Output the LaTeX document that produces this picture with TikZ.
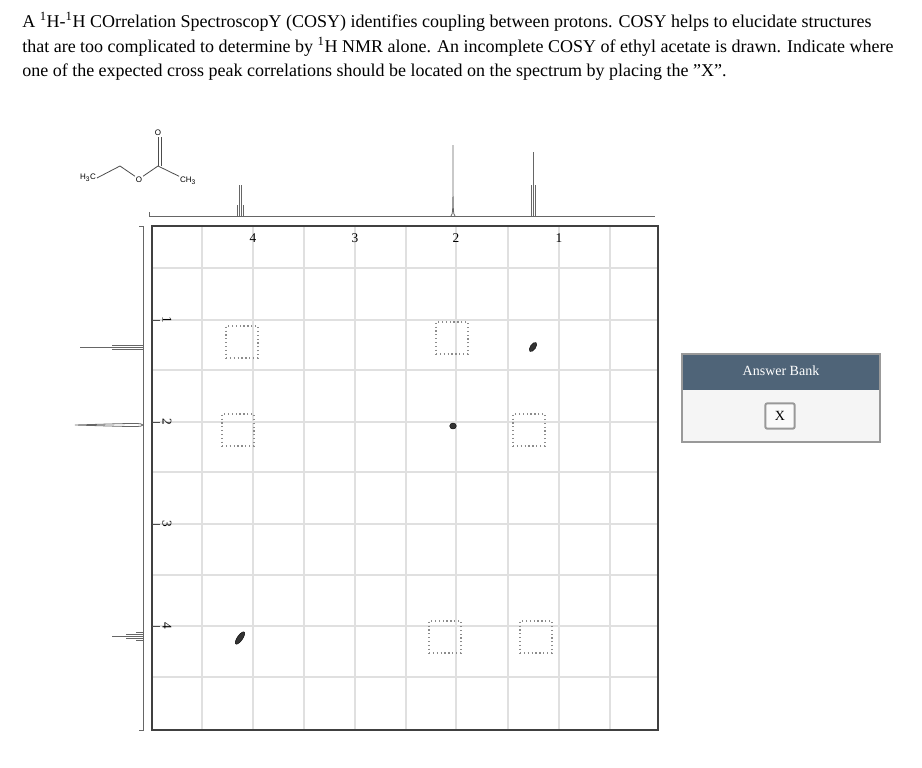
\documentclass[tikz,border=0pt]{standalone}
\usepackage{fontspec}
\setmainfont{Liberation Serif}
\newfontfamily\molfont{Liberation Sans}
\usetikzlibrary{shapes.geometric}
\begin{document}
\begin{tikzpicture}[x=0.75pt,y=-0.75pt,
  hdr/.style={anchor=west,inner sep=0,font=\fontsize{13.5pt}{15pt}\selectfont},
  grid/.style={draw=black!12,line width=0.8pt},
  spec/.style={draw=black!60,line width=0.6pt},
  dotbox/.style={draw=black!45,dotted,line width=0.9pt,minimum width=24pt,minimum height=24pt,inner sep=0},
  axlab/.style={font=\fontsize{10pt}{11pt}\selectfont,inner sep=0},
  mol/.style={font=\molfont\fontsize{6pt}{7pt}\selectfont,inner sep=0.5pt},
  pk/.style={fill=black!80,draw=black,line width=0.3pt,ellipse}]
\useasboundingbox (0,0) rectangle (922,768);
\node[hdr] (t1) at (22,22) {A \textsuperscript{1}H-\textsuperscript{1}H COrrelation SpectroscopY (COSY) identifies coupling between protons. COSY helps to elucidate structures};
\node[hdr] (t2) at (22,47) {that are too complicated to determine by \textsuperscript{1}H NMR alone. An incomplete COSY of ethyl acetate is drawn. Indicate where};
\node[hdr] (t3) at (22,72) {one of the expected cross peak correlations should be located on the spectrum by placing the \symbol{34}X\symbol{34}.};
% molecule
\node[mol] (h3c) at (88,178) {H\textsubscript{3}C};
\coordinate (c2) at (120,166);
\node[mol] (o1) at (139,180) {O};
\coordinate (c3) at (158,166);
\node[mol] (o2) at (158,133) {O};
\node[mol] (ch3) at (188,181) {CH\textsubscript{3}};
\draw[black!70,line width=0.6pt] (h3c.east) -- (c2) -- (o1.north west) (o1.north east) -- (c3) -- (ch3.north west);
\draw[black!70,line width=0.6pt] (c3) -- (o2.south) ([xshift=2.5]c3) -- ([xshift=2.5]o2.south);
% grid
\foreach \x in {202,253,304,355,406,456,508,559,610} \draw[grid] (\x,226) -- (\x,730);
\foreach \y in {268,320,370,422,472,524,575,626,677} \draw[grid] (152,\y) -- (658,\y);
\draw[black!75,line width=1pt] (152,226) rectangle (658,730);
% top axis labels
\foreach \l/\x in {4/253,3/355,2/456,1/559} \node[axlab] (tx\l) at (\x,238) {\l};
% left axis labels rotated
\foreach \l/\y in {1/320,2/422,3/524,4/626} {\node[axlab,rotate=-90] (ly\l) at (167,\y) {\l}; \draw[black!70] (152,\y) -- (160,\y);}
% top spectrum
\draw[spec] (149,212) -- (149,216) -- (655,216);
\draw[spec] (237,216) -- (237,205) (239,216) -- (239,185) (241,216) -- (241,185) (243,216) -- (243,205);
\draw[spec] (451,216) .. controls (453,214) .. (453,145) .. controls (453,214) .. (455,216);
\draw[spec] (531,216) -- (531,185) (533,216) -- (533,152) (535,216) -- (535,185);
% left spectrum
\draw[spec] (139,226) -- (143,226) -- (143,730) -- (139,730);
\draw[spec] (143,636) -- (112,636) (143,634) -- (126,634) (143,638) -- (126,638) (143,632) -- (136,632) (143,640) -- (136,640);
\draw[spec] (143,425) .. controls (141,423) .. (75,425) .. controls (141,427) .. (143,425);
\draw[spec] (143,347) -- (80,347) (143,345) -- (112,345) (143,349) -- (112,349);
% cross peaks
\node[pk,minimum width=11pt,minimum height=4pt,inner sep=0,rotate=55] (d4) at (240,638) {};
\node[pk,minimum width=5pt,minimum height=4.5pt,inner sep=0] (d2) at (453,426) {};
\node[pk,minimum width=8pt,minimum height=4pt,inner sep=0,rotate=55] (d1) at (533,347) {};
% dotted boxes
\node[dotbox] (b1) at (242,342) {};
\node[dotbox] (b2) at (452,338) {};
\node[dotbox] (b3) at (238,430) {};
\node[dotbox] (b4) at (529,430) {};
\node[dotbox] (b5) at (445,637) {};
\node[dotbox] (b6) at (536,637) {};
% answer bank
\fill[black!4] (682,354) rectangle (880,442);
\fill[fill={rgb,255:red,79;green,100;blue,120}] (682,354) rectangle (880,390);
\draw[black!40,line width=1.2pt] (682,354) rectangle (880,442);
\node[font=\fontsize{10.5pt}{12pt}\selectfont,text=white] (ab) at (781,371) {Answer Bank};
\node[draw=black!40,line width=1.5pt,fill=black!2,rounded corners=1.5pt,minimum width=22pt,minimum height=19pt,font=\fontsize{10.5pt}{12pt}\selectfont] (xb) at (780,416) {X};
\end{tikzpicture}
\end{document}
